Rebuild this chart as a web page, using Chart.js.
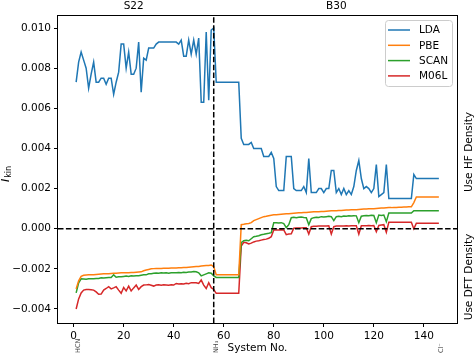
<!DOCTYPE html>
<html>
<head>
<meta charset="utf-8">
<script src="https://cdn.jsdelivr.net/npm/chart.js@4.4.1/dist/chart.umd.min.js"></script>
<style>
html,body{margin:0;padding:0;background:#fff;}
canvas{display:block;}
</style>
</head>
<body>
<canvas id="c" width="474" height="355"></canvas>
<script>
// ---------- data ----------
const seriesNames = ['LDA', 'PBE', 'SCAN', 'M06L'];
const seriesColors = ['#1f77b4', '#ff7f0e', '#2ca02c', '#d62728'];

const lda = [
 0.0073,0.0083,0.0088,0.0084,0.0080,0.0070,0.0077,0.0083,0.0073,0.0073,
 0.0075,0.0075,0.0072,0.0075,0.0075,0.0067,0.0073,0.0078,0.0092,0.0092,
 0.0080,0.0088,0.0077,0.0077,0.0080,0.0093,0.0068,0.0085,0.0084,0.0090,
 0.0090,0.0090,0.0092,0.0093,0.0093,0.0093,0.0093,0.0093,0.0093,0.0093,
 0.0093,0.0092,0.0094,0.0086,0.0086,0.0094,0.0087,0.0094,0.0087,0.0095,
 0.0063,0.0063,0.0098,0.0064,0.0099,0.0100,
 0.0073,0.0073,0.0073,0.0073,0.0073,0.0073,0.0073,0.0073,0.0073,0.0073,
 0.0045,0.0042,0.0042,0.0042,0.0043,0.0040,0.0040,0.0040,0.0040,0.0036,
 0.0036,0.0036,0.0038,0.0035,0.0021,0.0019,0.0019,0.0019,0.0036,0.0036,
 0.0036,0.0020,0.0019,0.0019,0.0019,0.0021,0.0018,0.0035,0.0018,0.0018,
 0.0018,0.0020,0.0020,0.0018,0.0020,0.0020,0.0029,0.0029,0.0018,0.0020,
 0.0017,0.0020,0.0017,0.0019,0.0017,0.0021,0.0029,0.0034,0.0025,0.0020,
 0.0021,0.0020,0.0018,0.0020,0.0032,0.0016,0.0017,0.0018,0.0032,0.0015,
 0.0015,0.0015,0.0015,0.0015,0.0015,0.0015,0.0015,0.0015,0.0015,0.0027,
 0.0025,0.0025,0.0025,0.0025,0.0025,0.0025,0.0025,0.0025,0.0025,0.0025
];

const pbe = [
 -0.0030,-0.0026,-0.00238,-0.00232,-0.00231,-0.0023,-0.0023,-0.00229,-0.00228,-0.00227,
 -0.00226,-0.00225,-0.00224,-0.00224,-0.00223,-0.00222,-0.00222,-0.00221,-0.0022,-0.0022,
 -0.0022,-0.00219,-0.00218,-0.00218,-0.00217,-0.00216,-0.00215,-0.0021,-0.00206,-0.00203,
 -0.0020,-0.00199,-0.00198,-0.00198,-0.00198,-0.00197,-0.00197,-0.00197,-0.00196,-0.00196,
 -0.00196,-0.00195,-0.00195,-0.00194,-0.00193,-0.00192,-0.00191,-0.0019,-0.00189,-0.00188,
 -0.00186,-0.00185,-0.00184,-0.00183,-0.00181,-0.0019,
 -0.0023,-0.0023,-0.0023,-0.0023,-0.0023,-0.0023,-0.0023,-0.0023,-0.0023,-0.0023,
 0.0002,0.00022,0.00025,0.00026,0.0003,0.0004,0.00045,0.0005,0.00055,0.0006,
 0.00062,0.00065,0.00067,0.00069,0.0007,0.00071,0.00072,0.00073,0.00074,0.00075,
 0.00076,0.00077,0.00078,0.00079,0.0008,0.00081,0.00081,0.00082,0.00083,0.00084,
 0.00084,0.00085,0.00086,0.00086,0.00087,0.00088,0.00089,0.00089,0.0009,0.00091,
 0.00091,0.00092,0.00093,0.00093,0.00094,0.00095,0.00095,0.00096,0.00097,0.00098,
 0.00098,0.00099,0.001,0.001,0.00101,0.00102,0.00103,0.00103,0.00104,0.00105,
 0.00105,0.00106,0.00106,0.00107,0.00107,0.00108,0.00108,0.00109,0.00109,0.0013,
 0.00158,0.00158,0.00158,0.00158,0.00158,0.00158,0.00158,0.00158,0.00158,0.00158
];

const scan = [
 -0.0032,-0.0027,-0.0025,-0.00251,-0.00252,-0.0025,-0.0025,-0.00249,-0.00248,-0.00248,
 -0.00245,-0.00246,-0.00244,-0.00243,-0.00243,-0.0023,-0.00242,-0.0024,-0.0024,-0.00238,
 -0.00236,-0.00238,-0.00235,-0.00236,-0.00234,-0.00235,-0.00232,-0.0023,-0.0023,-0.00225,
 -0.00224,-0.00222,-0.00221,-0.00222,-0.0022,-0.00221,-0.0022,-0.00222,-0.0022,-0.00219,
 -0.00219,-0.00218,-0.0022,-0.00217,-0.00218,-0.00216,-0.00216,-0.00213,-0.00215,-0.0022,
 -0.00235,-0.0023,-0.00225,-0.0022,-0.00222,-0.00235,
 -0.00243,-0.00243,-0.00243,-0.00243,-0.00243,-0.00243,-0.00243,-0.00243,-0.00243,-0.00243,
 -0.0007,-0.0006,-0.00058,-0.0006,-0.0005,-0.0004,-0.00038,-0.00035,-0.0003,-0.00028,
 -0.00025,-0.00023,-0.0002,0.0003,0.0003,0.00028,0.0003,0.00025,0.00005,0.0002,
 0.00055,0.00057,0.00055,0.00057,0.00058,0.00056,0.00055,0.0002,0.0005,0.00055,
 0.00057,0.00056,0.0006,0.00058,0.0006,0.00062,0.0006,0.0004,0.0006,0.00062,
 0.0006,0.00063,0.00062,0.00064,0.00063,0.00065,0.00064,0.0003,0.00062,0.00065,
 0.00066,0.00065,0.00067,0.00066,0.0003,0.00068,0.00066,0.00068,0.00035,0.00078,
 0.00078,0.00078,0.00078,0.00078,0.00078,0.00078,0.00078,0.00078,0.00078,0.0009,
 0.0009,0.0009,0.0009,0.0009,0.0009,0.0009,0.0009,0.0009,0.0009,0.0009
];

const m06l = [
 -0.0040,-0.0035,-0.0032,-0.00306,-0.00303,-0.00303,-0.00304,-0.00306,-0.00315,-0.00327,
 -0.00326,-0.00306,-0.00298,-0.00289,-0.003,-0.00295,-0.00289,-0.00306,-0.00322,-0.00293,
 -0.0031,-0.00286,-0.0031,-0.00295,-0.00281,-0.00303,-0.00289,-0.00281,-0.0028,-0.00278,
 -0.00282,-0.00286,-0.00281,-0.0028,-0.00282,-0.0028,-0.00281,-0.00282,-0.0028,-0.00281,
 -0.00273,-0.00276,-0.00275,-0.00276,-0.00272,-0.00274,-0.00269,-0.0027,-0.00269,-0.00273,
 -0.00256,-0.00281,-0.00298,-0.00269,-0.00294,-0.00303,
 -0.00322,-0.00322,-0.00322,-0.00322,-0.00322,-0.00322,-0.00322,-0.00322,-0.00322,-0.00322,
 -0.00086,-0.00068,-0.0007,-0.00076,-0.00072,-0.00066,-0.00062,-0.0006,-0.00057,-0.00054,
 -0.00052,-0.00048,-0.0004,-0.00006,-0.00006,-0.00006,-0.00005,-0.00006,-0.0003,-0.00027,
 -0.00025,0.00002,0.00003,0.00003,0.00004,0.00005,0.00005,-0.00027,0.0001,0.00012,
 0.00012,0.00013,0.00013,0.00014,0.00014,0.00015,-0.00027,0.0001,0.00013,0.00014,
 0.00014,0.00014,0.00015,0.00014,0.00015,0.00015,0.00015,-0.00027,0.00015,0.00015,
 0.00015,0.00016,0.00015,0.00016,-0.00015,0.00016,0.00018,0.0002,-0.00018,0.00032,
 0.00032,0.00032,0.00032,0.00032,0.00032,0.00032,0.00032,0.00032,0.00032,-0.00001,
 0.00027,0.00027,0.00027,0.00027,0.00027,0.00027,0.00027,0.00027,0.00027,0.00027
];

const systemNo = lda.map((_, i) => i + 1);   // system numbers 1..146
const xTickValues = [0, 20, 40, 60, 80, 100, 120, 140];
const yTickValues = [-0.004, -0.002, 0.000, 0.002, 0.004, 0.006, 0.008, 0.010];
const groupNames = ['S22', 'B30'];
const groupLabelAt = [24, 105];
const groupDivider = [56];
const zeroLevel = [0];
const moleculeNames = ['HCN', 'NH\u2083', 'Cl\u207B'];
const moleculeAt = [1, 56, 146];
const sideLabels = ['Use HF Density', 'Use DFT Density'];
const axisTitleX = 'System No.';

// ---------- chart ----------
const FONT = 'DejaVu Sans';
Chart.defaults.font.family = FONT;
const seriesData = [lda, pbe, scan, m06l];

const decor = {
  id: 'decor',
  afterDatasetsDraw(chart) {
    const {ctx, chartArea: a, scales: {x, y}} = chart;
    ctx.save();
    // dashed reference lines
    ctx.beginPath();
    ctx.rect(a.left, a.top, a.right - a.left, a.bottom - a.top);
    ctx.clip();
    ctx.strokeStyle = '#000';
    ctx.lineWidth = 1.5;
    ctx.setLineDash([5.5, 2.4]);
    zeroLevel.forEach(v => {
      const py = y.getPixelForValue(v);
      ctx.beginPath(); ctx.moveTo(a.left, py); ctx.lineTo(a.right, py); ctx.stroke();
    });
    groupDivider.forEach(v => {
      const px = x.getPixelForValue(v);
      ctx.beginPath(); ctx.moveTo(px, a.bottom); ctx.lineTo(px, a.top); ctx.stroke();
    });
    ctx.restore();

    // spines
    ctx.save();
    ctx.strokeStyle = '#000';
    ctx.lineWidth = 1;
    ctx.strokeRect(Math.round(a.left) - 0.5, Math.round(a.top) - 0.5,
                   Math.round(a.right - a.left) + 1, Math.round(a.bottom - a.top) + 1);
    ctx.restore();

    // legend
    ctx.save();
    const lx = a.right - 72, ly = a.top + 4, lw = 67, lh = 66;
    ctx.beginPath();
    ctx.roundRect(lx + 0.5, ly + 0.5, lw, lh, 3);
    ctx.fillStyle = 'rgba(255,255,255,0.8)';
    ctx.fill();
    ctx.strokeStyle = '#cccccc';
    ctx.lineWidth = 1;
    ctx.stroke();
    ctx.font = '10.5px "' + FONT + '"';
    ctx.textBaseline = 'middle';
    ctx.textAlign = 'left';
    chart.data.datasets.forEach((ds, i) => {
      const ry = ly + 10 + i * 15.3;
      ctx.strokeStyle = ds.borderColor;
      ctx.lineWidth = 1.5;
      ctx.beginPath(); ctx.moveTo(lx + 3, ry); ctx.lineTo(lx + 25, ry); ctx.stroke();
      ctx.fillStyle = '#000';
      ctx.fillText(ds.label, lx + 34, ry + 0.5);
    });
    ctx.restore();

    // group labels on top
    ctx.save();
    ctx.fillStyle = '#000';
    ctx.font = '10.5px "' + FONT + '"';
    ctx.textAlign = 'center';
    ctx.textBaseline = 'alphabetic';
    groupNames.forEach((g, i) => ctx.fillText(g, x.getPixelForValue(groupLabelAt[i]), 8.5));

    // side labels (rotated)
    ctx.textBaseline = 'middle';
    const sideY = [152, 277];
    sideLabels.forEach((t, i) => {
      ctx.save();
      ctx.translate(469, sideY[i]);
      ctx.rotate(-Math.PI / 2);
      ctx.fillText(t, 0, 0);
      ctx.restore();
    });

    // tiny molecule labels under the x axis
    ctx.font = '6.5px "' + FONT + '"';
    ctx.textAlign = 'left';
    ctx.fillStyle = '#444';
    moleculeNames.forEach((t, i) => {
      ctx.save();
      ctx.translate(x.getPixelForValue(moleculeAt[i]) + 2.5, 353);
      ctx.rotate(-Math.PI / 2);
      ctx.fillText(t, 0, 0);
      ctx.restore();
    });

    // y axis title I_kin
    ctx.fillStyle = '#000';
    ctx.save();
    ctx.translate(6.5, 174);
    ctx.rotate(-Math.PI / 2);
    ctx.textAlign = 'left';
    ctx.textBaseline = 'middle';
    ctx.font = 'italic 11px "' + FONT + '"';
    const wI = ctx.measureText('I').width;
    ctx.font = '8px "' + FONT + '"';
    const wk = ctx.measureText('kin').width;
    const start = -(wI + wk + 1) / 2;
    ctx.font = 'italic 11px "' + FONT + '"';
    ctx.fillText('I', start, 0);
    ctx.font = '8px "' + FONT + '"';
    ctx.fillText('kin', start + wI + 1, 2.5);
    ctx.restore();
    ctx.restore();
  }
};

new Chart(document.getElementById('c'), {
  type: 'line',
  data: {
    datasets: seriesNames.map((name, i) => ({
      label: name,
      data: systemNo.map((n, j) => ({x: n, y: seriesData[i][j]})),
      borderColor: seriesColors[i],
      backgroundColor: seriesColors[i],
      borderWidth: 1.5,
      pointRadius: 0,
      tension: 0,
      fill: false
    }))
  },
  options: {
    responsive: false,
    animation: false,
    devicePixelRatio: 1,
    layout: {padding: {left: 0, right: 17, top: 16, bottom: 0}},
    plugins: {legend: {display: false}, tooltip: {enabled: false}},
    scales: {
      x: {
        type: 'linear',
        min: -6.25, max: 153.25,
        afterBuildTicks: s => { s.ticks = xTickValues.map(v => ({value: v})); },
        afterFit: s => { s.height = 32; },
        grid: {drawOnChartArea: false, drawTicks: true, tickLength: 4, color: '#000', tickWidth: 1},
        border: {display: false},
        ticks: {color: '#000', font: {size: 10.5}, padding: 3, maxRotation: 0, autoSkip: false},
        title: {display: true, text: axisTitleX, color: '#000', font: {size: 10.5}, padding: {top: 0, bottom: 0}}
      },
      y: {
        type: 'linear',
        min: -0.0047, max: 0.0106,
        afterBuildTicks: s => { s.ticks = yTickValues.map(v => ({value: v})); },
        afterFit: s => { s.width = 58; },
        grid: {drawOnChartArea: false, drawTicks: true, tickLength: 4, color: '#000', tickWidth: 1},
        border: {display: false},
        ticks: {
          color: '#000', font: {size: 10.5}, padding: 3, autoSkip: false,
          callback: v => (v < -1e-9 ? '\u2212' : '') + Math.abs(v).toFixed(3)
        }
      }
    }
  },
  plugins: [decor]
});
</script>
</body>
</html>
